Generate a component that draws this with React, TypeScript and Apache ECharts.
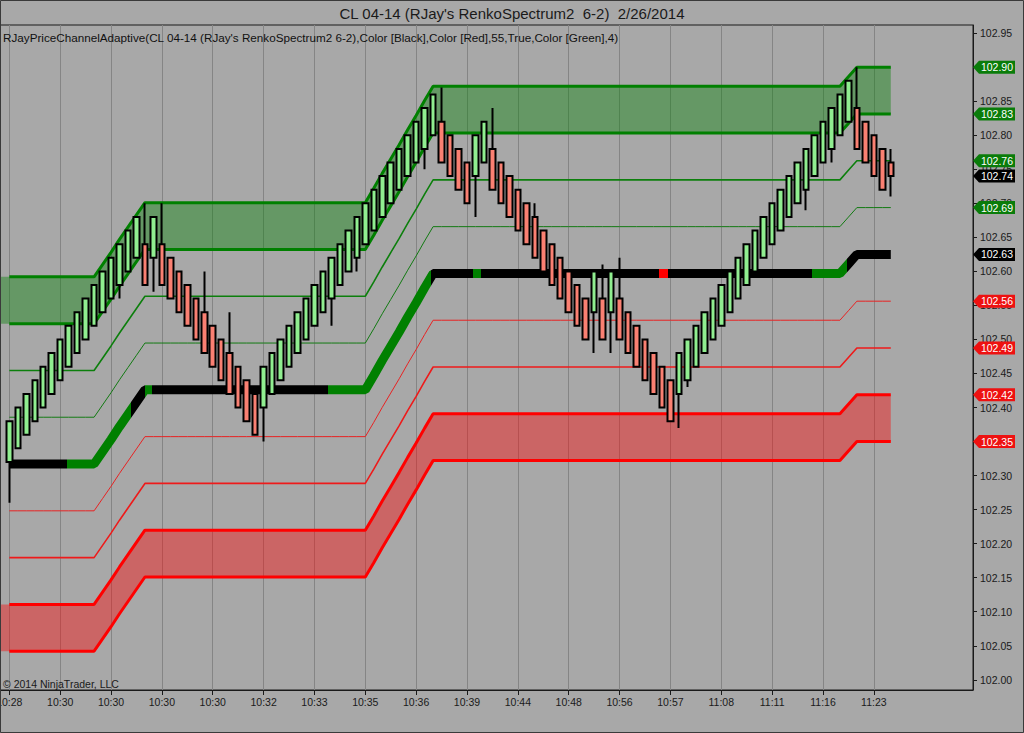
import React, { useEffect, useRef } from "react";
import * as echarts from "echarts";

const TITLE = "CL 04-14 (RJay's RenkoSpectrum2  6-2)  2/26/2014";
const INDICATOR_LABEL =
  "RJayPriceChannelAdaptive(CL 04-14 (RJay's RenkoSpectrum2 6-2),Color [Black],Color [Red],55,True,Color [Green],4)";
const COPYRIGHT = "\u00A9 2014 NinjaTrader, LLC";

// x-axis labels (bar index -> time)
const TIME_LABEL_BARS = [0, 6, 12, 18, 24, 30, 36, 42, 48, 54, 60, 66, 72, 78, 84, 90, 96, 102];
const TIME_LABELS = [
  "10:28", "10:30", "10:30", "10:30", "10:30", "10:32", "10:33", "10:35", "10:36",
  "10:39", "10:44", "10:48", "10:56", "10:57", "11:08", "11:11", "11:16", "11:23",
];
const PRICE_TICKS = [
  102.0, 102.05, 102.1, 102.15, 102.2, 102.25, 102.3, 102.35, 102.4, 102.45,
  102.5, 102.55, 102.6, 102.65, 102.7, 102.75, 102.8, 102.85, 102.9, 102.95,
];

// Renko bricks, bar 0..104
const OPEN = [
  102.32, 102.34, 102.36, 102.38, 102.40, 102.42, 102.44, 102.46, 102.48, 102.50,
  102.52, 102.54, 102.56, 102.58, 102.60, 102.62, 102.64, 102.62, 102.64, 102.62,
  102.60, 102.58, 102.56, 102.54, 102.52, 102.50, 102.48, 102.46, 102.44, 102.42,
  102.40, 102.42, 102.44, 102.46, 102.48, 102.50, 102.52, 102.54, 102.56, 102.58,
  102.60, 102.62, 102.64, 102.66, 102.68, 102.70, 102.72, 102.74, 102.76, 102.78,
  102.80, 102.82, 102.80, 102.78, 102.76, 102.74, 102.76, 102.78, 102.76, 102.74,
  102.72, 102.70, 102.68, 102.66, 102.64, 102.62, 102.60, 102.58, 102.56, 102.54,
  102.56, 102.54, 102.56, 102.54, 102.52, 102.50, 102.48, 102.46, 102.44, 102.42,
  102.44, 102.46, 102.48, 102.50, 102.52, 102.54, 102.56, 102.58, 102.60, 102.62,
  102.64, 102.66, 102.68, 102.70, 102.72, 102.74, 102.76, 102.78, 102.80, 102.82,
  102.84, 102.82, 102.80, 102.78, 102.76,
];
const CLOSE = [
  102.38, 102.40, 102.42, 102.44, 102.46, 102.48, 102.50, 102.52, 102.54, 102.56,
  102.58, 102.60, 102.62, 102.64, 102.66, 102.68, 102.58, 102.68, 102.58, 102.56,
  102.54, 102.52, 102.50, 102.48, 102.46, 102.44, 102.42, 102.40, 102.38, 102.36,
  102.46, 102.48, 102.50, 102.52, 102.54, 102.56, 102.58, 102.60, 102.62, 102.64,
  102.66, 102.68, 102.70, 102.72, 102.74, 102.76, 102.78, 102.80, 102.82, 102.84,
  102.86, 102.76, 102.74, 102.72, 102.70, 102.80, 102.82, 102.72, 102.70, 102.68,
  102.66, 102.64, 102.62, 102.60, 102.58, 102.56, 102.54, 102.52, 102.50, 102.60,
  102.50, 102.60, 102.50, 102.48, 102.46, 102.44, 102.42, 102.40, 102.38, 102.48,
  102.50, 102.52, 102.54, 102.56, 102.58, 102.60, 102.62, 102.64, 102.66, 102.68,
  102.70, 102.72, 102.74, 102.76, 102.78, 102.80, 102.82, 102.84, 102.86, 102.88,
  102.78, 102.76, 102.74, 102.72, 102.74,
];
const LOW = [
  102.26, 102.34, 102.36, 102.38, 102.40, 102.42, 102.44, 102.46, 102.48, 102.50,
  102.52, 102.54, 102.56, 102.56, 102.60, 102.62, 102.58, 102.57, 102.58, 102.56,
  102.54, 102.52, 102.50, 102.48, 102.46, 102.44, 102.42, 102.40, 102.38, 102.36,
  102.35, 102.42, 102.44, 102.46, 102.48, 102.50, 102.52, 102.54, 102.52, 102.58,
  102.60, 102.60, 102.64, 102.66, 102.68, 102.70, 102.72, 102.74, 102.76, 102.75,
  102.80, 102.76, 102.74, 102.72, 102.70, 102.68, 102.76, 102.72, 102.70, 102.68,
  102.66, 102.64, 102.62, 102.60, 102.58, 102.56, 102.54, 102.52, 102.50, 102.48,
  102.50, 102.48, 102.50, 102.48, 102.46, 102.44, 102.42, 102.40, 102.38, 102.37,
  102.43, 102.46, 102.48, 102.50, 102.52, 102.54, 102.56, 102.58, 102.60, 102.62,
  102.64, 102.66, 102.68, 102.70, 102.69, 102.74, 102.76, 102.76, 102.80, 102.82,
  102.78, 102.76, 102.74, 102.72, 102.71,
];
const HIGH = [
  102.38, 102.40, 102.42, 102.44, 102.46, 102.48, 102.50, 102.52, 102.54, 102.56,
  102.58, 102.60, 102.62, 102.64, 102.66, 102.68, 102.70, 102.68, 102.70, 102.62,
  102.60, 102.58, 102.56, 102.60, 102.52, 102.50, 102.54, 102.46, 102.44, 102.42,
  102.46, 102.48, 102.50, 102.52, 102.54, 102.56, 102.58, 102.60, 102.62, 102.64,
  102.66, 102.68, 102.70, 102.72, 102.74, 102.76, 102.78, 102.80, 102.82, 102.84,
  102.86, 102.87, 102.80, 102.78, 102.76, 102.80, 102.82, 102.84, 102.76, 102.74,
  102.72, 102.70, 102.70, 102.66, 102.64, 102.62, 102.60, 102.58, 102.56, 102.60,
  102.61, 102.60, 102.62, 102.54, 102.52, 102.50, 102.48, 102.46, 102.44, 102.48,
  102.50, 102.52, 102.54, 102.56, 102.58, 102.60, 102.62, 102.64, 102.66, 102.68,
  102.70, 102.72, 102.74, 102.76, 102.78, 102.80, 102.82, 102.84, 102.86, 102.88,
  102.90, 102.82, 102.80, 102.78, 102.78,
];

// Adaptive price channel middle line, bar 0..104
const CHANNEL_MID = [
  102.317, 102.317, 102.317, 102.317, 102.317, 102.317, 102.317, 102.317, 102.317, 102.317,
  102.317, 102.335, 102.353, 102.372, 102.390, 102.408, 102.426, 102.426, 102.426, 102.426,
  102.426, 102.426, 102.426, 102.426, 102.426, 102.426, 102.426, 102.426, 102.426, 102.426,
  102.426, 102.426, 102.426, 102.426, 102.426, 102.426, 102.426, 102.426, 102.426, 102.426,
  102.426, 102.426, 102.426, 102.447, 102.469, 102.490, 102.511, 102.533, 102.554, 102.576,
  102.597, 102.597, 102.597, 102.597, 102.597, 102.597, 102.597, 102.597, 102.597, 102.597,
  102.597, 102.597, 102.597, 102.597, 102.597, 102.597, 102.597, 102.597, 102.597, 102.597,
  102.597, 102.597, 102.597, 102.597, 102.597, 102.597, 102.597, 102.597, 102.597, 102.597,
  102.597, 102.597, 102.597, 102.597, 102.597, 102.597, 102.597, 102.597, 102.597, 102.597,
  102.597, 102.597, 102.597, 102.597, 102.597, 102.597, 102.597, 102.597, 102.597, 102.611,
  102.625, 102.625, 102.625, 102.625, 102.625,
];
// distance of channel lines from the middle line (1..4)
const CHANNEL_OFFSETS = [0.06875, 0.1375, 0.20625, 0.275];
// trend state of the middle line over bar ranges
const MID_TREND = [
  { from: -5, to: 6.8, state: "flat" },
  { from: 6.8, to: 14.4, state: "up" },
  { from: 14.4, to: 16.0, state: "flat" },
  { from: 16.0, to: 16.8, state: "up" },
  { from: 16.8, to: 37.6, state: "flat" },
  { from: 37.6, to: 49.8, state: "up" },
  { from: 49.8, to: 54.7, state: "flat" },
  { from: 54.7, to: 55.7, state: "up" },
  { from: 55.7, to: 76.7, state: "flat" },
  { from: 76.7, to: 77.7, state: "down" },
  { from: 77.7, to: 94.7, state: "flat" },
  { from: 94.7, to: 98.8, state: "up" },
  { from: 98.8, to: 200, state: "flat" },
];

const FONT = "'Liberation Sans', Arial, Helvetica, sans-serif";
const BG = "#a8a8a8";
const GREEN = "#008000";
const RED = "#ff0000";
const X_MIN = -1.1;
const X_MAX = 113.7;
const Y_MIN = 101.985;
const Y_MAX = 102.962;

function buildOption() {
  const bars = OPEN.map((_, i) => i);
  const bandX = [X_MIN, ...bars];
  const bandMid = [CHANNEL_MID[0], ...CHANNEL_MID];
  const last = CHANNEL_MID.length - 1;

  const tag = (value: number, color: string) => ({
    symbol: "path://M0,6.5L6,0L42,0L42,13L6,13Z",
    symbolSize: [42, 13],
    symbolOffset: [21, 0],
    silent: true,
    z: 10,
    itemStyle: { color },
    label: {
      show: true,
      position: "inside",
      offset: [3, 0],
      color: "#ffffff",
      fontSize: 10.5,
      fontFamily: FONT,
      formatter: () => value.toFixed(2),
    },
    data: [{ coord: [X_MAX, value] }],
  });

  const band = (offA: number, offB: number, fill: string) => ({
    type: "custom",
    silent: true,
    z: 2,
    clip: true,
    data: [[X_MIN, Y_MIN]],
    renderItem: (_params: any, api: any) => {
      const upper = bandX.map((x, i) => api.coord([x, bandMid[i] + offA]));
      const lower = bandX.map((x, i) => api.coord([x, bandMid[i] + offB])).reverse();
      return {
        type: "polygon",
        shape: { points: [...upper, ...lower] },
        style: { fill, stroke: "none" },
      };
    },
  });

  const channelLine = (sign: number, k: number, color: string, width: number, extra: any = {}) => {
    const vals = CHANNEL_MID.map((m) => m + sign * CHANNEL_OFFSETS[k]);
    return {
      type: "line",
      data: bars.map((i) => [i, vals[i]]),
      showSymbol: false,
      symbol: "none",
      silent: true,
      z: 2,
      lineStyle: { color, width, cap: "butt" },
      markPoint: tag(vals[last], sign > 0 ? "#0a7c0a" : "#ee1111"),
      ...extra,
    };
  };

  const trendColor: Record<string, string> = { flat: "#000000", up: GREEN, down: RED };

  const gridLines = {
    silent: true,
    symbol: ["none", "none"],
    z: 1,
    label: { show: false },
    lineStyle: { color: "#858585", width: 1, type: "solid" },
    data: TIME_LABEL_BARS.map((b) => ({ xAxis: b })),
  };

  const series: any[] = [
    band(CHANNEL_OFFSETS[3], CHANNEL_OFFSETS[2], "rgba(0,128,0,0.4)"),
    band(-CHANNEL_OFFSETS[2], -CHANNEL_OFFSETS[3], "rgba(255,0,0,0.4)"),
    channelLine(1, 3, GREEN, 3, { markLine: gridLines }),
    channelLine(1, 2, GREEN, 3),
    channelLine(1, 1, "#0c7f0c", 1.6),
    channelLine(1, 0, "#127a12", 1),
    channelLine(-1, 0, "#e82222", 1),
    channelLine(-1, 1, "#ee1a1a", 1.6),
    channelLine(-1, 2, RED, 3),
    channelLine(-1, 3, RED, 3),
    {
      type: "line",
      data: bars.map((i) => [i, CHANNEL_MID[i]]),
      showSymbol: false,
      symbol: "none",
      silent: true,
      z: 2,
      lineStyle: { width: 9, cap: "butt", join: "bevel" },
      markPoint: tag(CHANNEL_MID[last], "#000000"),
    },
    {
      type: "candlestick",
      data: bars.map((i) => [i, OPEN[i], CLOSE[i], LOW[i], HIGH[i]]),
      barWidth: 6,
      silent: true,
      z: 3,
      itemStyle: {
        color: "#90ee90",
        color0: "#fa8072",
        borderColor: "#000000",
        borderColor0: "#000000",
        borderWidth: 2,
      },
      markPoint: tag(CLOSE[last], "#000000"),
    },
  ];

  const midIndex = series.length - 2;

  return {
    animation: false,
    backgroundColor: BG,
    textStyle: { fontFamily: FONT },
    grid: {
      left: 0,
      right: 51,
      top: 25,
      bottom: 43,
      show: true,
      borderColor: "#1a1a1a",
      borderWidth: 1,
      backgroundColor: "transparent",
      containLabel: false,
      outerBoundsMode: "none",
    },
    visualMap: [
      {
        type: "piecewise",
        show: false,
        dimension: 0,
        seriesIndex: midIndex,
        pieces: MID_TREND.map((s) => ({ gte: s.from, lt: s.to, color: trendColor[s.state] })),
      },
    ],
    xAxis: {
      type: "value",
      min: X_MIN,
      max: X_MAX,
      splitLine: { show: false },
      axisLine: { show: true, onZero: false, lineStyle: { color: "#1a1a1a", width: 1 } },
      axisTick: { show: true, length: 5, customValues: TIME_LABEL_BARS, lineStyle: { color: "#1a1a1a" } },
      axisLabel: {
        show: true,
        customValues: TIME_LABEL_BARS,
        margin: 6,
        color: "#1a1a1a",
        fontSize: 10.5,
        fontFamily: FONT,
        formatter: (v: number) => {
          const idx = TIME_LABEL_BARS.indexOf(Math.round(v));
          return idx >= 0 ? TIME_LABELS[idx] : "";
        },
      },
    },
    yAxis: {
      type: "value",
      position: "right",
      min: Y_MIN,
      max: Y_MAX,
      scale: true,
      splitLine: { show: false },
      axisLine: { show: true, onZero: false, lineStyle: { color: "#1a1a1a", width: 1 } },
      axisTick: { show: true, length: 4, customValues: PRICE_TICKS, lineStyle: { color: "#1a1a1a" } },
      axisLabel: {
        show: true,
        customValues: PRICE_TICKS,
        margin: 7,
        color: "#1a1a1a",
        fontSize: 10.5,
        fontFamily: FONT,
        formatter: (v: number) => v.toFixed(2),
      },
    },
    graphic: [
      {
        type: "text",
        x: 512,
        y: 13,
        silent: true,
        style: {
          text: TITLE,
          font: `15px ${FONT}`,
          fill: "#1a1a1a",
          textAlign: "center",
          textVerticalAlign: "middle",
          align: "center",
          verticalAlign: "middle",
        },
      },
      {
        type: "text",
        x: 3,
        y: 37,
        z: 20,
        silent: true,
        style: {
          text: INDICATOR_LABEL,
          font: `11.7px ${FONT}`,
          fill: "#111111",
          textAlign: "left",
          textVerticalAlign: "middle",
          align: "left",
          verticalAlign: "middle",
        },
      },
      {
        type: "text",
        x: 3,
        y: 684,
        z: 20,
        silent: true,
        style: {
          text: COPYRIGHT,
          font: `10.5px ${FONT}`,
          fill: "#1a1a1a",
          textAlign: "left",
          textVerticalAlign: "middle",
          align: "left",
          verticalAlign: "middle",
        },
      },
      {
        type: "rect",
        silent: true,
        z: 20,
        shape: { x: 0.5, y: 0.5, width: 1023, height: 732 },
        style: { fill: "none", stroke: "#3a3a3a", lineWidth: 1 },
      },
    ],
    series,
  };
}

export default function App() {
  const ref = useRef<HTMLDivElement>(null);
  useEffect(() => {
    if (!ref.current) return;
    const chart = echarts.init(ref.current, null, { renderer: "svg", width: 1024, height: 733 });
    chart.setOption(buildOption() as any);
    return () => chart.dispose();
  }, []);
  return (
    <div
      ref={ref}
      style={{ position: "fixed", left: 0, top: 0, width: 1024, height: 733 }}
    />
  );
}
